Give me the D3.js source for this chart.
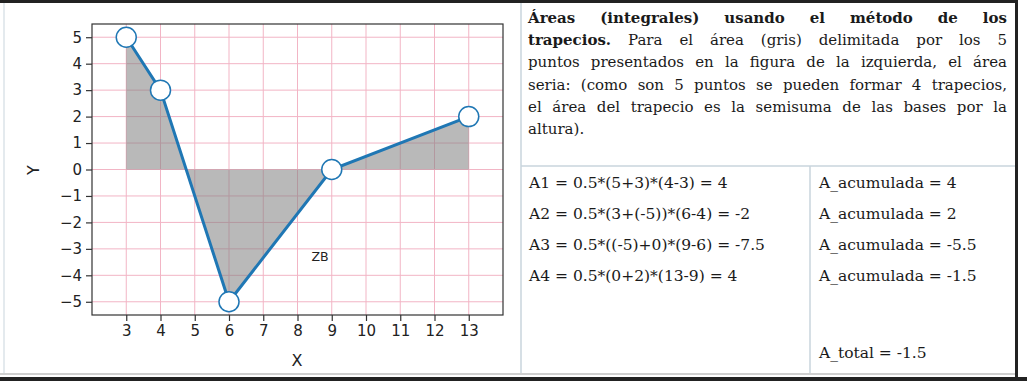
<!DOCTYPE html>
<html>
<head>
<meta charset="utf-8">
<script src="https://cdn.jsdelivr.net/npm/d3@7"></script>
<style>
  body { margin: 0; background: #fff; }
  svg { display: block; }
</style>
</head>
<body>
<div id="chart"></div>
<script>
// points of the polyline (x, y)
var xValues = [3, 4, 6, 9, 13];
var yValues = [5, 3, -5, 0, 2];
var xTicks = [3, 4, 5, 6, 7, 8, 9, 10, 11, 12, 13];
var yTicks = [-5, -4, -3, -2, -1, 0, 1, 2, 3, 4, 5];

// text on the right
var descLines = [
    "Áreas (integrales) usando el método de los",
    "trapecios. Para el área (gris) delimitada por los 5",
    "puntos presentados en la figura de la izquierda, el área",
    "seria: (como son 5 puntos se pueden formar 4 trapecios,",
    "el área del trapecio es la semisuma de las bases por la",
    "altura)."
];
var descBoldCount = [7, 1, 0, 0, 0, 0];
var areaFormulas = [
    "A1 = 0.5*(5+3)*(4-3) = 4",
    "A2 = 0.5*(3+(-5))*(6-4) = -2",
    "A3 = 0.5*((-5)+0)*(9-6) = -7.5",
    "A4 = 0.5*(0+2)*(13-9) = 4"
];
var accumLabels = [
    "A_acumulada = 4",
    "A_acumulada = 2",
    "A_acumulada = -5.5",
    "A_acumulada = -1.5"
];
var totalLabel = "A_total = -1.5";

var points = xValues.map(function(d, i){ return {x: d, y: yValues[i]}; });

var svg = d3.select("#chart")
    .append("svg")
    .attr("width", 1027)
    .attr("height", 381);

svg.append("rect").attr("width", 1027).attr("height", 381).attr("fill", "#fff");

// ---- plot ----
var x = d3.scaleLinear().domain([2, 14]).range([92, 503]);
var y = d3.scaleLinear().domain([-5.5, 5.5]).range([315, 24]);

var grid = svg.append("g").attr("stroke", "#f2b5c5").attr("stroke-width", 1);
grid.selectAll("line.gx")
    .data(xTicks)
    .enter()
    .append("line")
    .attr("x1", function(d){ return x(d); })
    .attr("x2", function(d){ return x(d); })
    .attr("y1", y.range()[0])
    .attr("y2", y.range()[1]);
grid.selectAll("line.gy")
    .data(yTicks)
    .enter()
    .append("line")
    .attr("x1", x.range()[0])
    .attr("x2", x.range()[1])
    .attr("y1", function(d){ return y(d); })
    .attr("y2", function(d){ return y(d); });

var area = d3.area()
    .x(function(d){ return x(d.x); })
    .y0(y(0))
    .y1(function(d){ return y(d.y); });

svg.append("path")
    .datum(points)
    .attr("d", area)
    .attr("fill", "#808080")
    .attr("fill-opacity", 0.55);

var line = d3.line()
    .x(function(d){ return x(d.x); })
    .y(function(d){ return y(d.y); });

svg.append("path")
    .datum(points)
    .attr("d", line)
    .attr("fill", "none")
    .attr("stroke", "#1f77b4")
    .attr("stroke-width", 3);

svg.selectAll("circle.pt")
    .data(points)
    .enter()
    .append("circle")
    .attr("cx", function(d){ return x(d.x); })
    .attr("cy", function(d){ return y(d.y); })
    .attr("r", 10)
    .attr("fill", "#fff")
    .attr("stroke", "#1f77b4")
    .attr("stroke-width", 1.5);

svg.append("rect")
    .attr("x", 92).attr("y", 24)
    .attr("width", 411).attr("height", 291)
    .attr("fill", "none")
    .attr("stroke", "#333")
    .attr("stroke-width", 1.2);

var xAxis = svg.append("g")
    .attr("transform", "translate(0,315)")
    .call(d3.axisBottom(x).tickValues(xTicks).tickSize(6).tickPadding(4));
var yAxis = svg.append("g")
    .attr("transform", "translate(92,0)")
    .call(d3.axisLeft(y).tickValues(yTicks).tickSize(6).tickPadding(4));

[xAxis, yAxis].forEach(function(a){
    a.select(".domain").remove();
    a.selectAll(".tick line").attr("stroke", "#333").attr("stroke-width", 1.2);
    a.selectAll(".tick text")
        .attr("fill", "#222")
        .style("font-family", "DejaVu Sans")
        .style("font-size", "15px");
});

svg.append("text")
    .attr("x", 297).attr("y", 366)
    .attr("text-anchor", "middle")
    .style("font-family", "DejaVu Sans").style("font-size", "16px")
    .attr("fill", "#222")
    .text("X");
svg.append("text")
    .attr("transform", "translate(39,170) rotate(-90)")
    .attr("text-anchor", "middle")
    .style("font-family", "DejaVu Sans").style("font-size", "16px")
    .attr("fill", "#222")
    .text("Y");

svg.append("text")
    .attr("x", 320).attr("y", 261)
    .attr("text-anchor", "middle")
    .style("font-family", "DejaVu Sans").style("font-size", "12.5px")
    .attr("fill", "#222")
    .text("ZB");

// ---- frame lines ----
var lineColor = "#c9d5dd";
svg.append("line").attr("x1", 4).attr("x2", 4).attr("y1", 3).attr("y2", 373).attr("stroke", lineColor);
svg.append("line").attr("x1", 521).attr("x2", 521).attr("y1", 3).attr("y2", 373).attr("stroke", lineColor).attr("stroke-width", 1.5);
svg.append("line").attr("x1", 521).attr("x2", 1015).attr("y1", 166).attr("y2", 166).attr("stroke", lineColor).attr("stroke-width", 1.5);
svg.append("line").attr("x1", 810).attr("x2", 810).attr("y1", 166).attr("y2", 373).attr("stroke", lineColor).attr("stroke-width", 1.5);
svg.append("line").attr("x1", 0).attr("x2", 1015).attr("y1", 374).attr("y2", 374).attr("stroke", "#cfcfcf").attr("stroke-width", 2);
svg.append("rect").attr("x", 0).attr("y", 0).attr("width", 1018).attr("height", 3).attr("fill", "#222");
svg.append("rect").attr("x", 1015).attr("y", 0).attr("width", 3).attr("height", 381).attr("fill", "#222");
svg.append("rect").attr("x", 0).attr("y", 377).attr("width", 1027).attr("height", 4).attr("fill", "#222");

// ---- description paragraph (justified) ----
var textFont = "DejaVu Serif";
var textSize = 15;
var textLeft = 528, textWidth = 479;
var desc = svg.append("g").attr("fill", "#1a1a1a")
    .style("font-family", textFont).style("font-size", textSize + "px");

descLines.forEach(function(str, li){
    var words = str.split(" ");
    var baseline = 23 + li * 22.2;
    var nodes = words.map(function(w, wi){
        return desc.append("text")
            .attr("y", baseline)
            .style("font-weight", wi < descBoldCount[li] ? "bold" : "normal")
            .text(w);
    });
    var widths = nodes.map(function(n){ return n.node().getComputedTextLength(); });
    var total = d3.sum(widths);
    var last = li === descLines.length - 1;
    var gap = last ? textSize * 0.3 : (textWidth - total) / (words.length - 1);
    var cx = textLeft;
    nodes.forEach(function(n, i){
        n.attr("x", cx);
        cx += widths[i] + gap;
    });
});

// ---- table ----
var table = svg.append("g").attr("fill", "#1a1a1a")
    .style("font-family", textFont).style("font-size", "15.5px");

table.selectAll("text.f")
    .data(areaFormulas)
    .enter()
    .append("text")
    .attr("x", 529)
    .attr("y", function(d, i){ return 188 + i * 31; })
    .text(function(d){ return d; });

table.selectAll("text.a")
    .data(accumLabels)
    .enter()
    .append("text")
    .attr("x", 819)
    .attr("y", function(d, i){ return 188 + i * 31; })
    .text(function(d){ return d; });

table.append("text")
    .attr("x", 819)
    .attr("y", 358)
    .text(totalLabel);
</script>
</body>
</html>
